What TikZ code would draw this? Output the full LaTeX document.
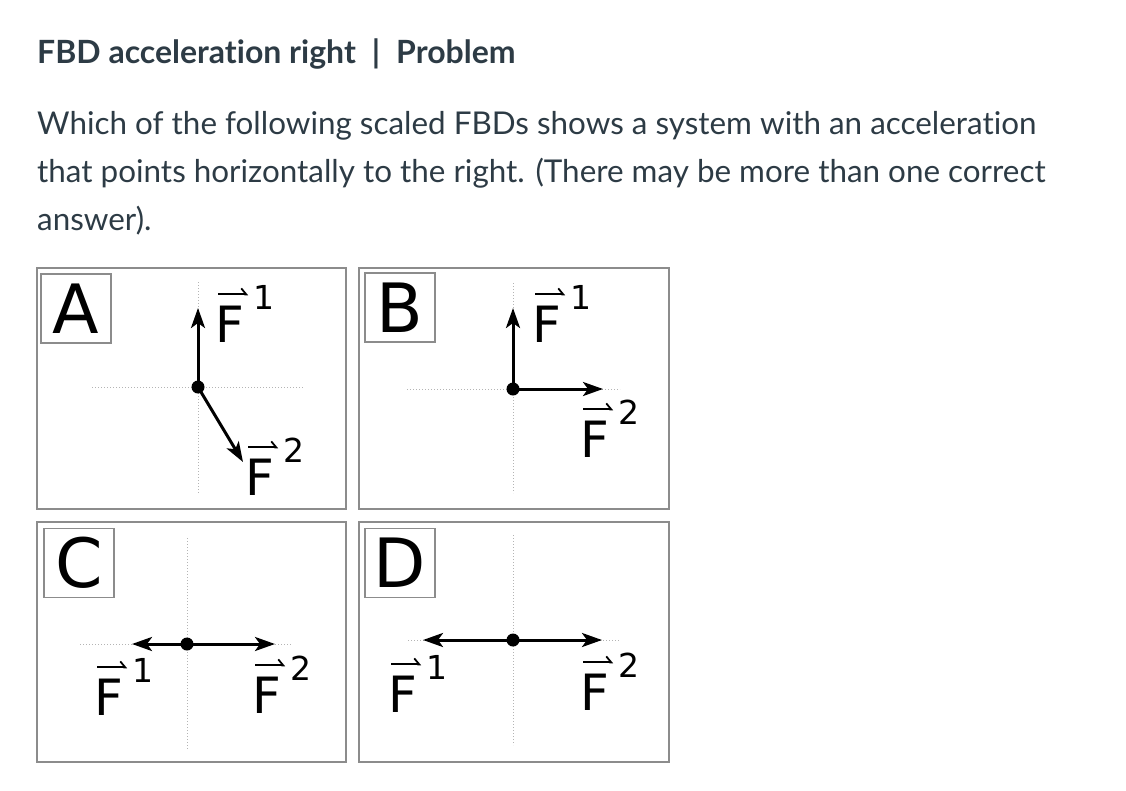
\documentclass[tikz,border=0pt]{standalone}
\usepackage{fontspec}
\setmainfont{Lato}[Ligatures=NoCommon]
\newfontfamily\dejavu{DejaVu Sans}
\usetikzlibrary{arrows.meta, positioning}
\definecolor{textcolor}{HTML}{2D3B45}
\definecolor{framecolor}{HTML}{8C8C8C}
\definecolor{gridcolor}{HTML}{B4B4B4}

% force label: F, its vector bar and its index
\newcommand{\forcelabel}[4]{%
    \node[fsym] (#1) at (#2,#3) {F};
    \draw[vecbar] ([xshift=3pt, yshift=11pt]#1.north west) -- ([xshift=4pt, yshift=11pt]#1.north east);
    \node[findex] (#1i) at ([xshift=9pt, yshift=33pt]#1.base east) {#4};
}

\begin{document}
\begin{tikzpicture}[x=1pt, y=-1pt,
    panel/.style={draw=framecolor, line width=1.5pt},
    tagbox/.style={draw=framecolor, line width=1.2pt, minimum width=70pt, minimum height=69pt, inner sep=0pt, font=\dejavu\fontsize{68}{68}\selectfont},
    axis/.style={draw=gridcolor, dotted, line width=1pt},
    force/.style={-{Stealth[length=20pt, width=14pt, inset=5pt]}, line width=3pt},
    body/.style={circle, fill=black, inner sep=0pt, minimum size=13pt},
    fsym/.style={inner sep=0pt, anchor=base west, font=\dejavu\fontsize{50}{50}\selectfont},
    findex/.style={inner sep=0pt, anchor=base west, font=\dejavu\fontsize{33}{33}\selectfont},
    vecbar/.style={line width=1.8pt, -{Straight Barb[harpoon, length=5pt, width=12pt]}},
    qline/.style={inner sep=0pt, anchor=base west, text=textcolor, font=\fontsize{31.4}{31.4}\selectfont}]
    \useasboundingbox (0,0) rectangle (1126,790);

    % Question text
    \node[qline, font=\bfseries\fontsize{32}{32}\selectfont] (title) at (37,63) {FBD acceleration right\hspace{16pt}|\hspace{16pt}Problem};
    \node[qline] (q1) at (37,134) {Which of the following scaled FBDs shows a system with an acceleration};
    \node[qline] (q2) at (37,182) {that points horizontally to the right. (There may be more than one correct};
    \node[qline] (q3) at (37,230) {answer).};

    % A
    \draw[panel] (37,268) rectangle (346,509);
    \node[tagbox] (tagA) at (76,308.5) {A};
    \draw[axis] (198,282) -- (198,493);
    \draw[axis] (92,387) -- (303,387);
    \coordinate (cA) at (198,387);
    \coordinate (tipA1) at (198,308);
    \coordinate (tipA2) at (243,462);
    \draw[force] (cA) -- (tipA1);
    \draw[force] (cA) -- (tipA2);
    \node[body] (dotA) at (cA) {};
    \forcelabel{FA1}{215}{342}{1}
    \forcelabel{FA2}{245}{495}{2}

    % B
    \draw[panel] (359,268) rectangle (669,509);
    \node[tagbox] (tagB) at (400,307.5) {B};
    \draw[axis] (513,283) -- (513,493);
    \draw[axis] (407,389) -- (620,389);
    \coordinate (cB) at (513,389);
    \coordinate (tipB1) at (513,308);
    \coordinate (tipB2) at (603,389);
    \draw[force] (cB) -- (tipB1);
    \draw[force] (cB) -- (tipB2);
    \node[body] (dotB) at (cB) {};
    \forcelabel{FB1}{532}{342}{1}
    \forcelabel{FB2}{580}{457}{2}

    % C
    \draw[panel] (37,522) rectangle (346,762);
    \node[tagbox] (tagC) at (79,563) {C};
    \draw[axis] (187,538) -- (187,749);
    \draw[axis] (80,644) -- (292,644);
    \coordinate (cC) at (187,644);
    \coordinate (tipC1) at (132,644);
    \coordinate (tipC2) at (275,644);
    \draw[force] (cC) -- (tipC1);
    \draw[force] (cC) -- (tipC2);
    \node[body] (dotC) at (cC) {};
    \forcelabel{FC1}{94}{715}{1}
    \forcelabel{FC2}{252}{713}{2}

    % D
    \draw[panel] (359,522) rectangle (669,762);
    \node[tagbox] (tagD) at (400,563) {D};
    \draw[axis] (513,535) -- (513,745);
    \draw[axis] (408,640) -- (620,640);
    \coordinate (cD) at (513,640);
    \coordinate (tipD1) at (423,640);
    \coordinate (tipD2) at (602,640);
    \draw[force] (cD) -- (tipD1);
    \draw[force] (cD) -- (tipD2);
    \node[body] (dotD) at (cD) {};
    \forcelabel{FD1}{388}{712}{1}
    \forcelabel{FD2}{580}{710}{2}
\end{tikzpicture}
\end{document}
